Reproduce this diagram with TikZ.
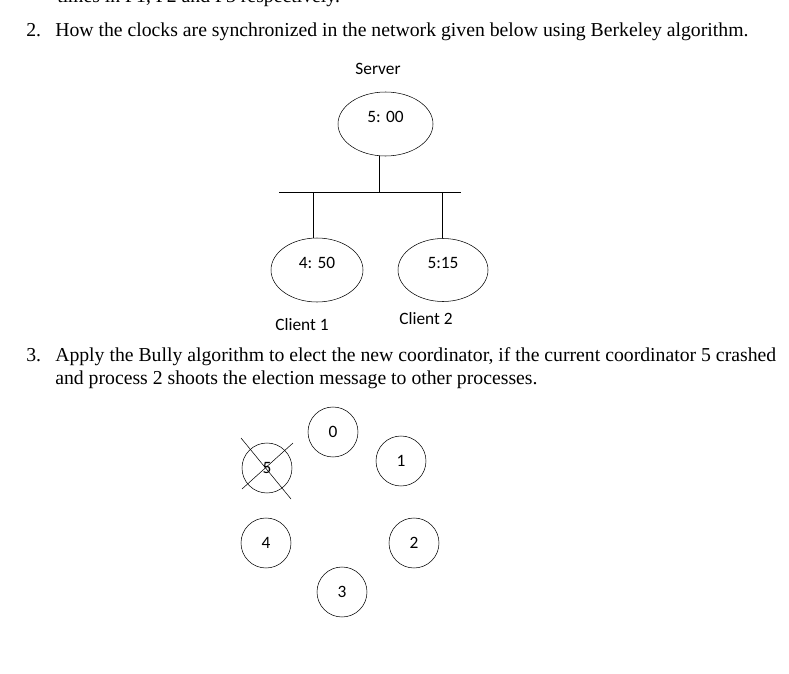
\documentclass[tikz,border=0pt]{standalone}
\usepackage{fontspec}
\setmainfont{Liberation Serif}
\newfontfamily\labelfont{Carlito}
\usetikzlibrary{shapes.geometric}
\tikzset{
  para/.style={anchor=base west, inner sep=0pt, font=\fontsize{14.8}{17}\selectfont},
  tag/.style={inner sep=0pt, font=\labelfont\fontsize{13}{15}\selectfont},
  clock/.style={draw, ellipse, inner sep=0pt, text height=7pt, text depth=9pt,
    font=\labelfont\fontsize{13}{15}\selectfont},
  proc/.style={draw, circle, minimum size=37.5pt, inner sep=0pt, font=\labelfont\fontsize{13}{15}\selectfont}
}

\begin{document}
\begin{tikzpicture}[x=0.75pt, y=-0.75pt]

  \useasboundingbox (0,0) rectangle (789,674);
  \clip (0,0) rectangle (789,674);

  % question text
  \node[para] (q1tail) at (57,3) {times in P1, P2 and P3 respectively.};
  \node[para] (q2num) at (26,37) {2.};
  \node[para] (q2) at (55,37) {How the clocks are synchronized in the network given below using Berkeley algorithm.};
  \node[para] (q3num) at (26,361) {3.};
  \node[para] (q3a) at (55,361) {Apply the Bully algorithm to elect the new coordinator, if the current coordinator 5 crashed};
  \node[para] (q3b) at (55,384) {and process 2 shoots the election message to other processes.};

  % Berkeley network
  \node[tag] (servertag) at (378,69) {Server};
  \node[clock, minimum width=71.25pt, minimum height=48pt] (server) at (385.5,124) {5: 00};
  \node[clock, minimum width=69pt, minimum height=48pt] (clientA) at (317,270) {4: 50};
  \node[clock, minimum width=67.5pt, minimum height=47.25pt] (clientB) at (443,270) {5:15\hspace{5pt}};
  \node[tag] (clientAtag) at (302,325) {Client 1};
  \node[tag] (clientBtag) at (426,319) {Client 2};

  \coordinate (busL) at (279,192);
  \coordinate (busR) at (461,192);
  \coordinate (dropS) at (379,192);
  \coordinate (dropA) at (313,192);
  \coordinate (dropB) at (442,192);
  \draw (busL) -- (busR);
  \draw (dropS) -- (dropS |- server.south);
  \draw (dropA) -- (dropA |- clientA.north);
  \draw (dropB) -- (dropB |- clientB.north);

  % Bully processes
  \node[proc] (p0) at (333,432) {0};
  \node[proc] (p1) at (401,461) {1};
  \node[proc] (p2) at (414,543) {2};
  \node[proc] (p3) at (342,592) {3};
  \node[proc] (p4) at (266,543) {4};
  \node[proc] (p5) at (267,468) {5};
  \draw (241,438) -- (291,499);
  \draw (242,489) -- (293,443);

\end{tikzpicture}
\end{document}
